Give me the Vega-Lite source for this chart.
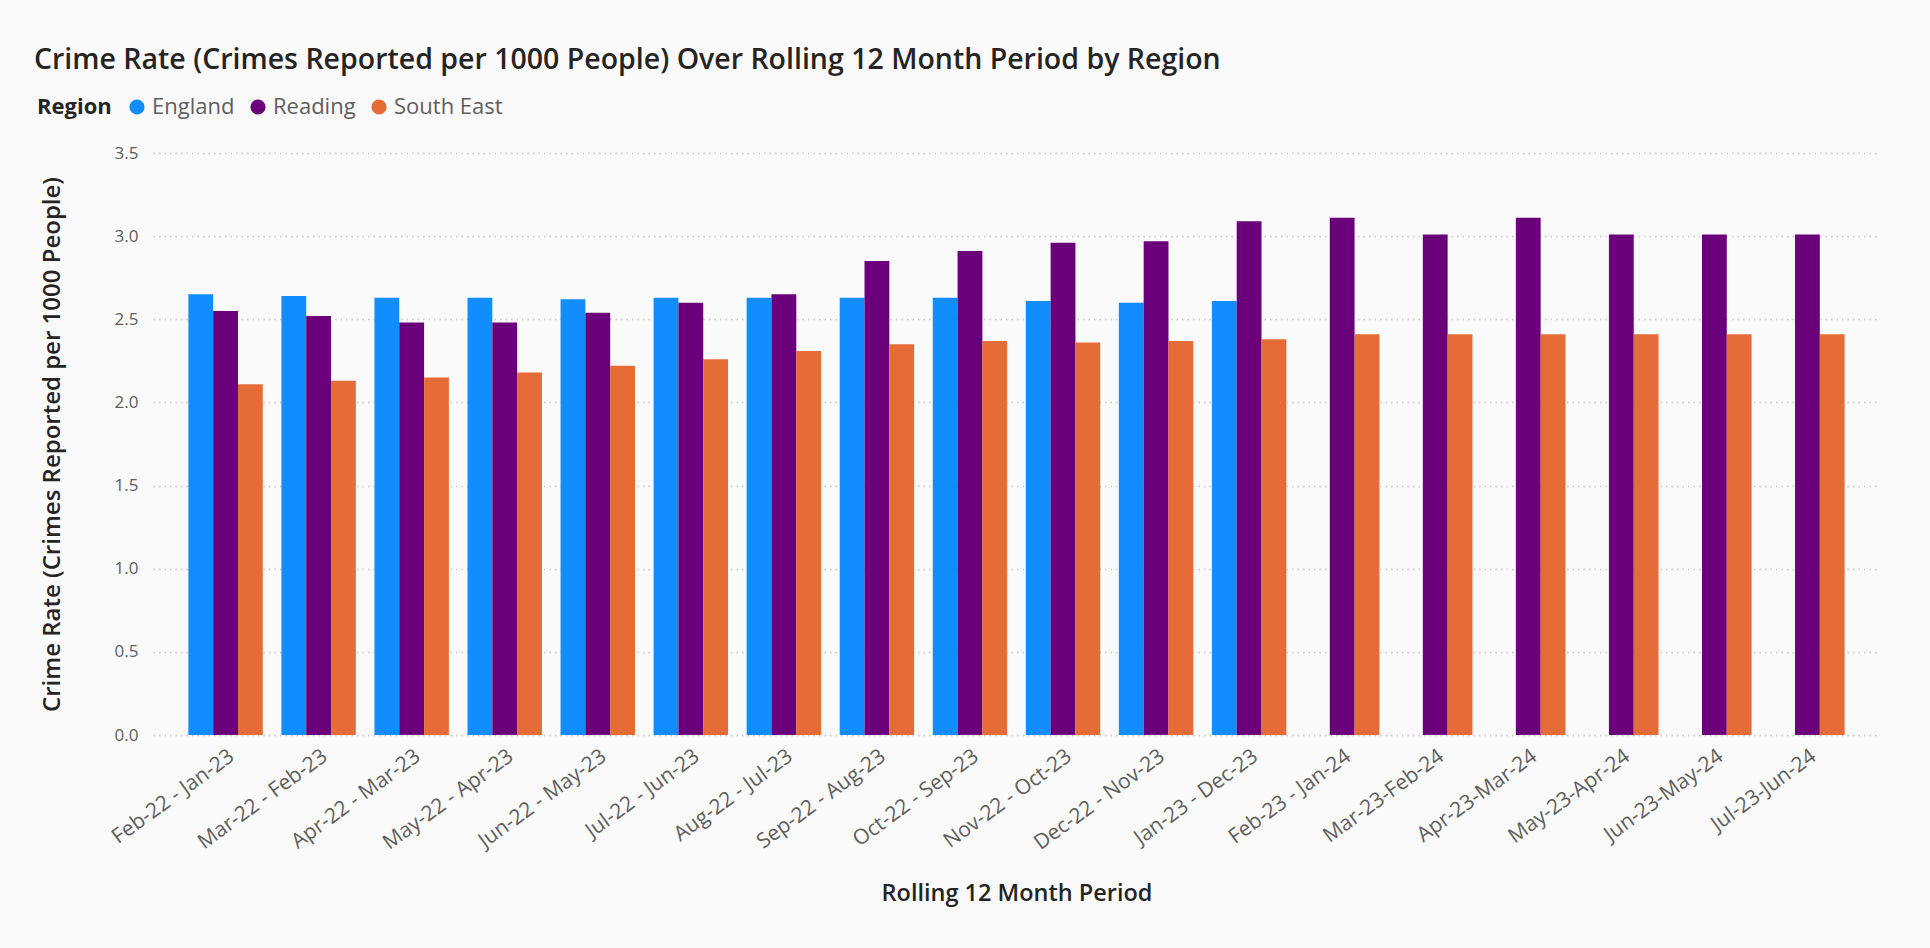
{
  "$schema": "https://vega.github.io/schema/vega-lite/v6.json",
  "width": 1727,
  "height": 582,
  "autosize": {"type": "none"},
  "padding": {"left": 153, "top": 153, "right": 50, "bottom": 213},
  "background": "#fafafa",
  "title": {
    "text": "Crime Rate (Crimes Reported per 1000 People) Over Rolling 12 Month Period by Region",
    "anchor": "start",
    "frame": "group",
    "dx": -119,
    "font": "Open Sans",
    "fontSize": 28.5,
    "fontWeight": 600,
    "color": "#252423",
    "offset": 22
  },
  "config": {
    "view": {"stroke": null},
    "font": "Open Sans"
  },
  "data": {
    "values": [
      {"Period": "Feb-22 - Jan-23", "Region": "England", "Rate": 2.65},
      {"Period": "Feb-22 - Jan-23", "Region": "Reading", "Rate": 2.55},
      {"Period": "Feb-22 - Jan-23", "Region": "South East", "Rate": 2.11},
      {"Period": "Mar-22 - Feb-23", "Region": "England", "Rate": 2.64},
      {"Period": "Mar-22 - Feb-23", "Region": "Reading", "Rate": 2.52},
      {"Period": "Mar-22 - Feb-23", "Region": "South East", "Rate": 2.13},
      {"Period": "Apr-22 - Mar-23", "Region": "England", "Rate": 2.63},
      {"Period": "Apr-22 - Mar-23", "Region": "Reading", "Rate": 2.48},
      {"Period": "Apr-22 - Mar-23", "Region": "South East", "Rate": 2.15},
      {"Period": "May-22 - Apr-23", "Region": "England", "Rate": 2.63},
      {"Period": "May-22 - Apr-23", "Region": "Reading", "Rate": 2.48},
      {"Period": "May-22 - Apr-23", "Region": "South East", "Rate": 2.18},
      {"Period": "Jun-22 - May-23", "Region": "England", "Rate": 2.62},
      {"Period": "Jun-22 - May-23", "Region": "Reading", "Rate": 2.54},
      {"Period": "Jun-22 - May-23", "Region": "South East", "Rate": 2.22},
      {"Period": "Jul-22 - Jun-23", "Region": "England", "Rate": 2.63},
      {"Period": "Jul-22 - Jun-23", "Region": "Reading", "Rate": 2.6},
      {"Period": "Jul-22 - Jun-23", "Region": "South East", "Rate": 2.26},
      {"Period": "Aug-22 - Jul-23", "Region": "England", "Rate": 2.63},
      {"Period": "Aug-22 - Jul-23", "Region": "Reading", "Rate": 2.65},
      {"Period": "Aug-22 - Jul-23", "Region": "South East", "Rate": 2.31},
      {"Period": "Sep-22 - Aug-23", "Region": "England", "Rate": 2.63},
      {"Period": "Sep-22 - Aug-23", "Region": "Reading", "Rate": 2.85},
      {"Period": "Sep-22 - Aug-23", "Region": "South East", "Rate": 2.35},
      {"Period": "Oct-22 - Sep-23", "Region": "England", "Rate": 2.63},
      {"Period": "Oct-22 - Sep-23", "Region": "Reading", "Rate": 2.91},
      {"Period": "Oct-22 - Sep-23", "Region": "South East", "Rate": 2.37},
      {"Period": "Nov-22 - Oct-23", "Region": "England", "Rate": 2.61},
      {"Period": "Nov-22 - Oct-23", "Region": "Reading", "Rate": 2.96},
      {"Period": "Nov-22 - Oct-23", "Region": "South East", "Rate": 2.36},
      {"Period": "Dec-22 - Nov-23", "Region": "England", "Rate": 2.6},
      {"Period": "Dec-22 - Nov-23", "Region": "Reading", "Rate": 2.97},
      {"Period": "Dec-22 - Nov-23", "Region": "South East", "Rate": 2.37},
      {"Period": "Jan-23 - Dec-23", "Region": "England", "Rate": 2.61},
      {"Period": "Jan-23 - Dec-23", "Region": "Reading", "Rate": 3.09},
      {"Period": "Jan-23 - Dec-23", "Region": "South East", "Rate": 2.38},
      {"Period": "Feb-23 - Jan-24", "Region": "Reading", "Rate": 3.11},
      {"Period": "Feb-23 - Jan-24", "Region": "South East", "Rate": 2.41},
      {"Period": "Mar-23-Feb-24", "Region": "Reading", "Rate": 3.01},
      {"Period": "Mar-23-Feb-24", "Region": "South East", "Rate": 2.41},
      {"Period": "Apr-23-Mar-24", "Region": "Reading", "Rate": 3.11},
      {"Period": "Apr-23-Mar-24", "Region": "South East", "Rate": 2.41},
      {"Period": "May-23-Apr-24", "Region": "Reading", "Rate": 3.01},
      {"Period": "May-23-Apr-24", "Region": "South East", "Rate": 2.41},
      {"Period": "Jun-23-May-24", "Region": "Reading", "Rate": 3.01},
      {"Period": "Jun-23-May-24", "Region": "South East", "Rate": 2.41},
      {"Period": "Jul-23-Jun-24", "Region": "Reading", "Rate": 3.01},
      {"Period": "Jul-23-Jun-24", "Region": "South East", "Rate": 2.41}
    ]
  },
  "mark": {"type": "bar"},
  "encoding": {
    "x": {
      "field": "Period",
      "type": "nominal",
      "sort": null,
      "scale": {"paddingInner": 0.2, "paddingOuter": 0.38},
      "axis": {
        "title": "Rolling 12 Month Period",
        "titleFont": "Open Sans",
        "titleFontSize": 23.5,
        "titleFontWeight": 600,
        "titleColor": "#252423",
        "titleY": 158,
        "titleBaseline": "middle",
        "labelAngle": -36,
        "labelFontSize": 21,
        "labelColor": "#605E5C",
        "labelPadding": 10,
        "ticks": false,
        "domain": false,
        "grid": false
      }
    },
    "xOffset": {
      "field": "Region",
      "type": "nominal",
      "scale": {"domain": ["England", "Reading", "South East"], "paddingInner": 0, "paddingOuter": 0}
    },
    "y": {
      "field": "Rate",
      "type": "quantitative",
      "scale": {"domain": [0, 3.5], "nice": false},
      "axis": {
        "title": "Crime Rate (Crimes Reported per 1000 People)",
        "titleFont": "Open Sans",
        "titleFontSize": 24,
        "titleFontWeight": 600,
        "titleColor": "#252423",
        "titleX": -101,
        "titleY": 291,
        "titleAlign": "center",
        "titleBaseline": "middle",
        "titleAngle": -90,
        "values": [0, 0.5, 1, 1.5, 2, 2.5, 3, 3.5],
        "format": ".1f",
        "labelFontSize": 17,
        "labelColor": "#605E5C",
        "labelPadding": 15,
        "ticks": false,
        "domain": false,
        "grid": true,
        "gridColor": "#c8c8c8",
        "gridDash": [1.5, 4],
        "gridWidth": 1.5
      }
    },
    "color": {
      "field": "Region",
      "type": "nominal",
      "scale": {"domain": ["England", "Reading", "South East"], "range": ["#118DFF", "#6B007B", "#E66C37"]},
      "legend": {
        "orient": "none",
        "legendX": -116,
        "legendY": -57,
        "direction": "horizontal",
        "title": "Region",
        "titleOrient": "left",
        "titleFont": "Open Sans",
        "titleFontSize": 22,
        "titleFontWeight": "bold",
        "titleColor": "#252423",
        "titlePadding": 14,
        "labelFont": "Open Sans",
        "labelFontSize": 22,
        "labelColor": "#605E5C",
        "labelOffset": 4,
        "columnPadding": 12,
        "symbolType": "circle",
        "symbolSize": 230,
        "symbolStrokeWidth": 0
      }
    }
  }
}
